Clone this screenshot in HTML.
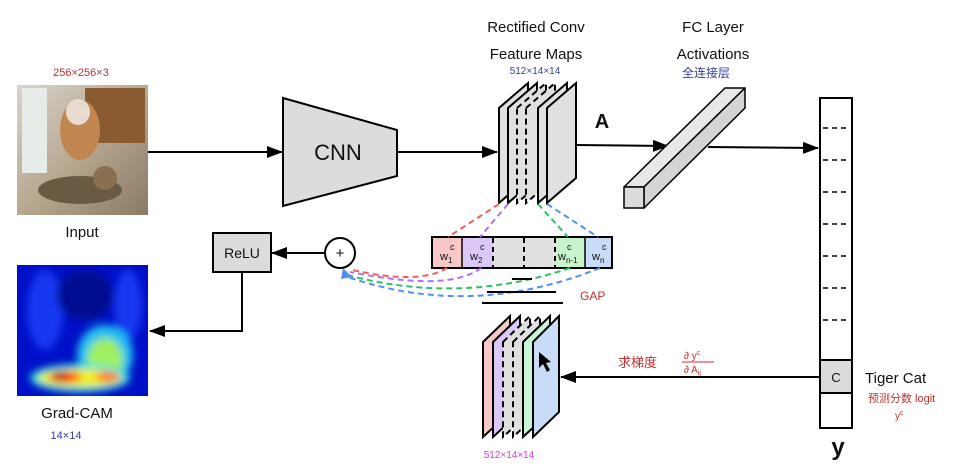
<!DOCTYPE html>
<html><head><meta charset="utf-8"><style>
html,body{margin:0;padding:0;background:#fff;}
svg{display:block;font-family:"Liberation Sans","DejaVu Sans",sans-serif;}
.h{font-family:"Liberation Sans","Noto Sans CJK SC",sans-serif;}
</style></head><body>
<svg width="966" height="467" viewBox="0 0 966 467" xmlns="http://www.w3.org/2000/svg">
<defs>
<marker id="ar2" markerWidth="16" markerHeight="12" refX="15" refY="6" orient="auto" markerUnits="userSpaceOnUse"><path d="M0,0 L16,6 L0,12 z" fill="#000"/></marker>
<radialGradient id="g1" cx="0.5" cy="0.5" r="0.5"><stop offset="0" stop-color="#c00000"/><stop offset="0.3" stop-color="#ff6000"/><stop offset="0.55" stop-color="#e0f000"/><stop offset="0.75" stop-color="#20e0e0"/><stop offset="1" stop-color="#1040ff" stop-opacity="0"/></radialGradient>
<radialGradient id="g3" cx="0.5" cy="0.5" r="0.5"><stop offset="0" stop-color="#f0f020"/><stop offset="0.4" stop-color="#60f0a0"/><stop offset="0.75" stop-color="#20a0ff"/><stop offset="1" stop-color="#1040ff" stop-opacity="0"/></radialGradient>
<radialGradient id="g2" cx="0.5" cy="0.5" r="0.5"><stop offset="0" stop-color="#2060ff"/><stop offset="1" stop-color="#1030e0" stop-opacity="0"/></radialGradient>
<linearGradient id="ph" x1="0" y1="0" x2="1" y2="1"><stop offset="0" stop-color="#d8d4cc"/><stop offset="0.5" stop-color="#b8a890"/><stop offset="1" stop-color="#8a7a66"/></linearGradient>
<filter id="bl"><feGaussianBlur stdDeviation="4"/></filter>
<clipPath id="cc"><rect x="17" y="265" width="131" height="131"/></clipPath>
</defs>

<!-- Input photo -->
<rect x="17" y="85" width="131" height="130" fill="url(#ph)"/>
<rect x="85" y="88" width="60" height="55" fill="#8a5a30"/>
<rect x="22" y="88" width="25" height="85" fill="#e8ece8"/>
<ellipse cx="80" cy="130" rx="20" ry="30" fill="#c08850"/>
<ellipse cx="78" cy="112" rx="12" ry="13" fill="#e8dcd0"/>
<ellipse cx="80" cy="190" rx="42" ry="14" fill="#6a5a44"/>
<ellipse cx="105" cy="178" rx="12" ry="12" fill="#8a7050"/>
<text x="81" y="76" font-size="11" fill="#c03030" text-anchor="middle" class="h">256×256×3</text>
<text x="82" y="237" font-size="15" text-anchor="middle" fill="#111">Input</text>

<!-- Grad-CAM -->
<rect x="17" y="265" width="131" height="131" fill="#0010c8"/>
<g clip-path="url(#cc)" filter="url(#bl)">
<ellipse cx="45" cy="310" rx="18" ry="40" fill="#1838f0"/>
<ellipse cx="128" cy="305" rx="14" ry="35" fill="#1838f0"/>
<ellipse cx="85" cy="295" rx="28" ry="25" fill="#000a90"/>
<ellipse cx="105" cy="355" rx="28" ry="30" fill="#20c0f0"/>
<ellipse cx="105" cy="360" rx="18" ry="22" fill="#a0f060"/>
<ellipse cx="80" cy="378" rx="50" ry="14" fill="#20e0e0"/>
<ellipse cx="80" cy="378" rx="42" ry="9" fill="#f0f020"/>
<ellipse cx="65" cy="377" rx="16" ry="6" fill="#ff5000"/>
<ellipse cx="60" cy="376" rx="8" ry="4" fill="#b00000"/>
<ellipse cx="108" cy="377" rx="12" ry="5" fill="#ff7000"/>
</g>
<text x="77" y="418" font-size="15" text-anchor="middle" fill="#111">Grad-CAM</text>
<text x="66" y="439" font-size="11" fill="#3040a0" text-anchor="middle" class="h">14×14</text>

<line x1="148" y1="152" x2="282" y2="152" stroke="#000" stroke-width="2" marker-end="url(#ar2)"/>
<polygon points="283,98 397,130 397,176 283,206" fill="#dcdcdc" stroke="#000" stroke-width="2"/>
<text x="338" y="160" font-size="22" text-anchor="middle" fill="#111">CNN</text>
<line x1="397" y1="152" x2="497" y2="152" stroke="#000" stroke-width="2" marker-end="url(#ar2)"/>

<text x="536" y="32" font-size="15" text-anchor="middle" fill="#111">Rectified Conv</text>
<text x="536" y="59" font-size="15" text-anchor="middle" fill="#111">Feature Maps</text>
<text x="535" y="74" font-size="10" fill="#3040a0" text-anchor="middle" class="h">512×14×14</text>
<text x="713" y="32" font-size="15" text-anchor="middle" fill="#111">FC Layer</text>
<text x="713" y="59" font-size="15" text-anchor="middle" fill="#111">Activations</text>
<text x="706" y="77" font-size="12" fill="#3040a0" text-anchor="middle" class="h">全连接层</text>

<g stroke="#000" stroke-width="2" fill="#e0e0e0">
<polygon points="499,108 528,83 528,178 499,203"/>
<polygon points="508,108 537,83 537,178 508,203"/>
<polygon points="517,108 546,83 546,178 517,203" stroke-dasharray="6,4"/>
<polygon points="526,108 555,83 555,178 526,203" stroke-dasharray="6,4"/>
<polygon points="538,108 567,83 567,178 538,203"/>
<polygon points="547,108 576,83 576,178 547,203"/>
</g>
<text x="602" y="128" font-size="20" font-weight="bold" text-anchor="middle" fill="#111">A</text>
<line x1="576" y1="145" x2="668" y2="146" stroke="#000" stroke-width="2" marker-end="url(#ar2)"/>

<!-- FC bar -->
<g stroke="#000" stroke-width="1.5" stroke-linejoin="round">
<polygon points="624,187 725,88 745,88 644,187" fill="#e8e8e8"/>
<polygon points="644,187 745,88 745,108 644,208" fill="#d4d4d4"/>
<rect x="624" y="187" width="20" height="21" fill="#dcdcdc"/>
</g>
<line x1="708" y1="147" x2="818" y2="148" stroke="#000" stroke-width="2" marker-end="url(#ar2)"/>

<!-- y vector -->
<rect x="820" y="98" width="32" height="330" fill="#fff" stroke="#000" stroke-width="2"/>
<g stroke="#000" stroke-width="1.5" stroke-dasharray="5,4">
<line x1="823" y1="128" x2="850" y2="128"/><line x1="823" y1="160" x2="850" y2="160"/>
<line x1="823" y1="192" x2="850" y2="192"/><line x1="823" y1="224" x2="850" y2="224"/>
<line x1="823" y1="256" x2="850" y2="256"/><line x1="823" y1="288" x2="850" y2="288"/>
<line x1="823" y1="320" x2="850" y2="320"/>
</g>
<rect x="820" y="360" width="32" height="33" fill="#dcdcdc" stroke="#000" stroke-width="2"/>
<text x="836" y="382" font-size="13" text-anchor="middle" fill="#111">C</text>
<text x="838" y="455" font-size="24" font-weight="bold" text-anchor="middle" fill="#111">y</text>
<text x="865" y="383" font-size="15" fill="#111">Tiger Cat</text>
<text x="868" y="402" font-size="11" fill="#c03030" class="h">预测分数 logit</text>
<text x="895" y="419" font-size="10" fill="#c03030" class="h">y<tspan font-size="7" dy="-4">c</tspan></text>

<!-- weights bar -->
<rect x="432" y="237" width="180" height="31" fill="#e0e0e0" stroke="#000" stroke-width="2"/>
<rect x="433" y="238" width="29" height="29" fill="#f8c8c8"/>
<rect x="462" y="238" width="31" height="29" fill="#dcc8f8"/>
<rect x="555" y="238" width="30" height="29" fill="#c8f4cc"/>
<rect x="585" y="238" width="26" height="29" fill="#c8dcf8"/>
<g stroke="#000" stroke-width="1.5"><line x1="462" y1="237" x2="462" y2="268"/><line x1="585" y1="237" x2="585" y2="268"/></g>
<g stroke="#000" stroke-width="2" stroke-dasharray="5,4"><line x1="493" y1="238" x2="493" y2="268"/><line x1="524" y1="238" x2="524" y2="268"/><line x1="555" y1="238" x2="555" y2="268"/></g>
<g font-size="11" fill="#111">
<text x="440" y="260">w<tspan font-size="8" dy="3">1</tspan></text><text x="450" y="250" font-size="9">c</text>
<text x="470" y="260">w<tspan font-size="8" dy="3">2</tspan></text><text x="480" y="250" font-size="9">c</text>
<text x="558" y="260">w<tspan font-size="8" dy="3">n-1</tspan></text><text x="567" y="250" font-size="9">c</text>
<text x="592" y="260">w<tspan font-size="8" dy="3">n</tspan></text><text x="602" y="250" font-size="9">c</text>
</g>

<g fill="none" stroke-width="2" stroke-dasharray="6,4">
<path d="M499,204 L448,237" stroke="#f06060"/>
<path d="M508,204 L480,237" stroke="#b070f0"/>
<path d="M538,204 L568,237" stroke="#30c060"/>
<path d="M547,204 L598,237" stroke="#5090f0"/>
<path d="M447,268 Q420,285 352,270" stroke="#f06060"/>
<path d="M481,268 Q450,292 350,272" stroke="#b070f0"/>
<path d="M570,268 Q460,305 347,275" stroke="#30c060"/>
<path d="M600,268 Q470,320 345,276" stroke="#5090f0"/>
</g>
<g fill="#5090f0"><path d="M343,268 L352,277 L341,279 z"/></g>

<circle cx="340" cy="253" r="15" fill="#fff" stroke="#000" stroke-width="2"/>
<text x="340" y="258" font-size="15" text-anchor="middle" fill="#111">+</text>
<line x1="325" y1="253" x2="272" y2="253" stroke="#000" stroke-width="2" marker-end="url(#ar2)"/>
<rect x="213" y="233" width="58" height="39" fill="#dcdcdc" stroke="#000" stroke-width="2"/>
<text x="242" y="258" font-size="14" text-anchor="middle" fill="#111">ReLU</text>
<polyline points="242,272 242,331 150,331" fill="none" stroke="#000" stroke-width="2" marker-end="url(#ar2)"/>

<g stroke="#000" stroke-width="2">
<line x1="512" y1="279" x2="532" y2="279"/>
<line x1="487" y1="292" x2="556" y2="292"/>
<line x1="482" y1="303" x2="563" y2="303"/>
</g>
<text x="580" y="300" font-size="12" fill="#c03030" class="h">GAP</text>

<g stroke="#000" stroke-width="2">
<polygon points="483,342 510,316 510,412 483,437" fill="#f8c8c8"/>
<polygon points="493,342 520,316 520,412 493,437" fill="#dcc8f8"/>
<polygon points="503,342 530,316 530,412 503,437" fill="#e0e0e0" stroke-dasharray="6,4"/>
<polygon points="513,342 540,316 540,412 513,437" fill="#e0e0e0" stroke-dasharray="6,4"/>
<polygon points="523,342 550,316 550,412 523,437" fill="#c8f4d8"/>
<polygon points="533,342 559,316 559,412 533,437" fill="#c8dcf8"/>
</g>
<path d="M539,352 L539,368 L543,364 L547,372 L550,370 L546,363 L551,362 z" fill="#000"/>
<text x="509" y="458" font-size="10" fill="#d040d0" text-anchor="middle" class="h">512×14×14</text>
<line x1="820" y1="377" x2="561" y2="377" stroke="#000" stroke-width="2" marker-end="url(#ar2)"/>
<text x="618" y="367" font-size="13" fill="#c03030" class="h">求梯度</text>
<text x="684" y="359" font-size="10" fill="#c03030" class="h">∂ y<tspan font-size="7" dy="-4">c</tspan></text>
<line x1="682" y1="362" x2="714" y2="362" stroke="#c03030" stroke-width="1"/>
<text x="684" y="373" font-size="10" fill="#c03030" class="h">∂ A<tspan font-size="7" dy="2">ij</tspan></text>
</svg>
</body></html>
